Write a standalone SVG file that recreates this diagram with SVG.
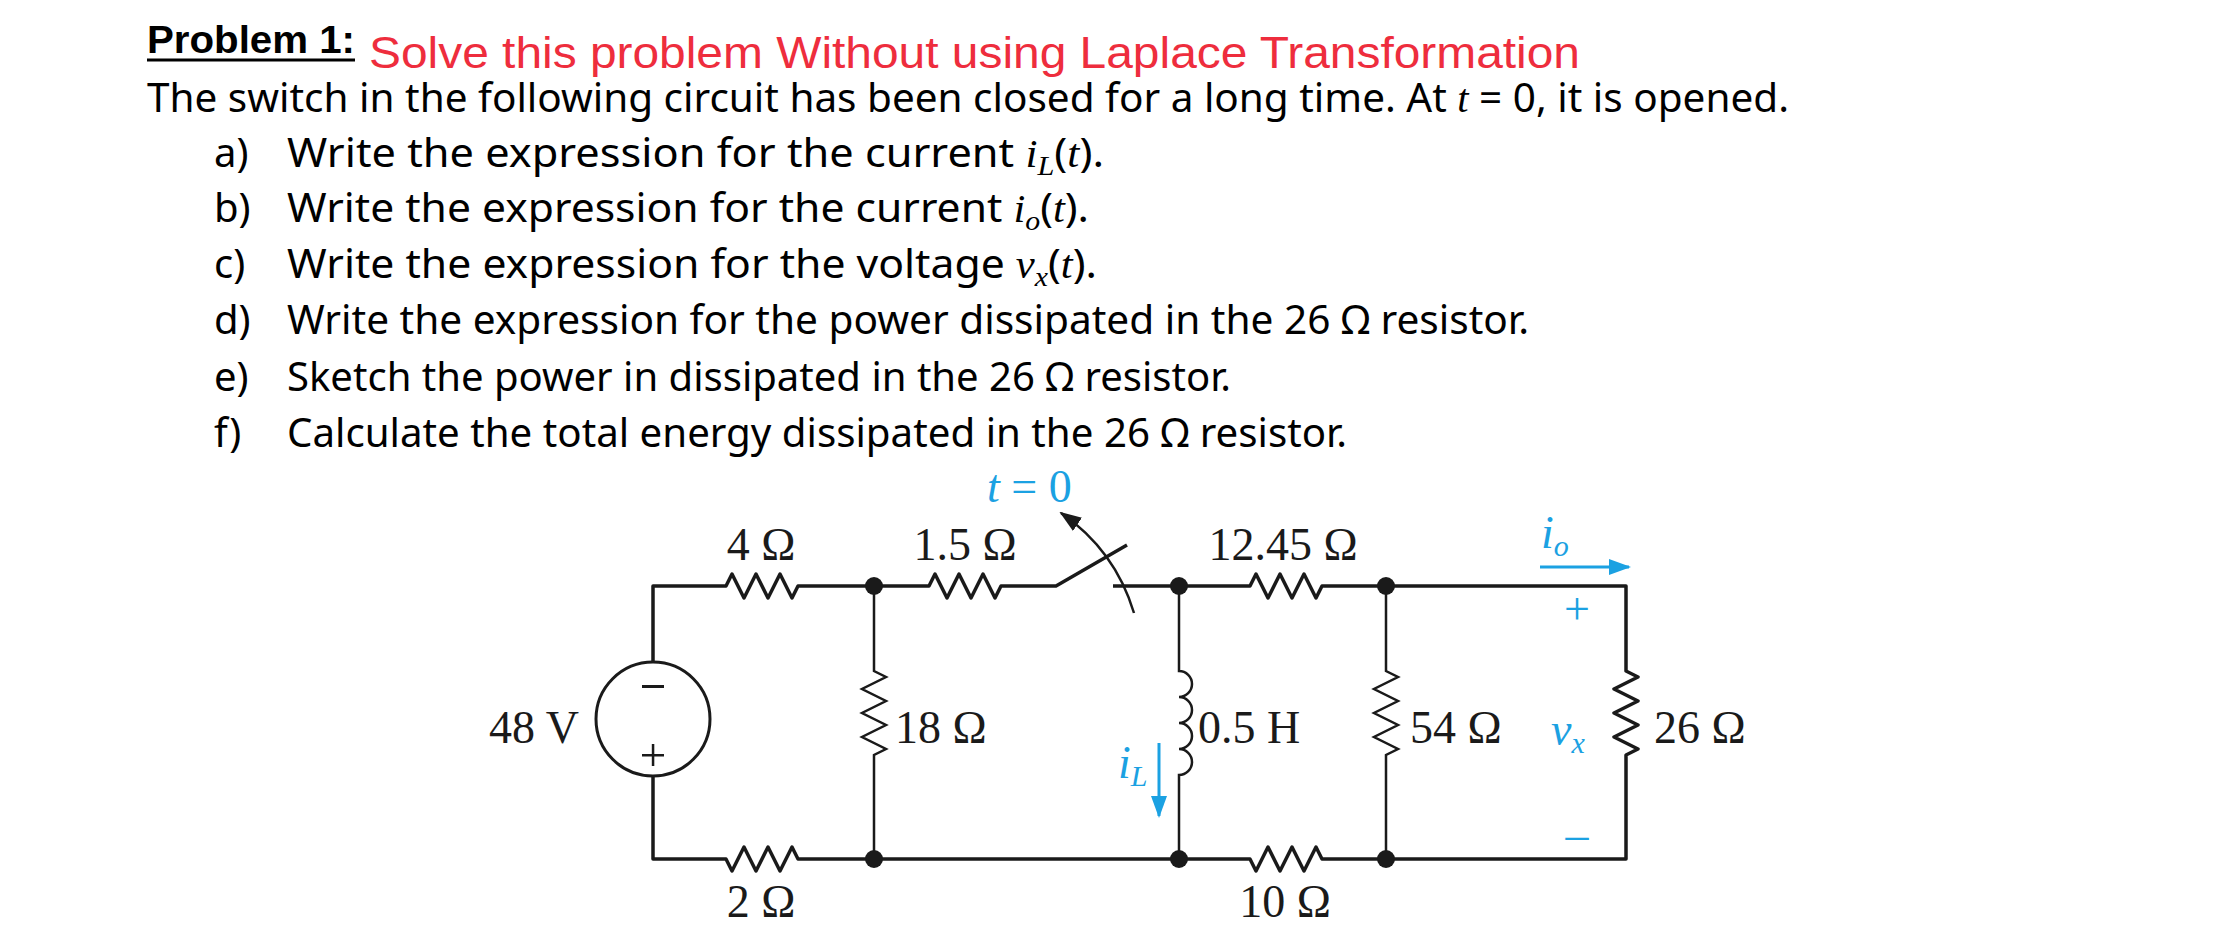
<svg xmlns="http://www.w3.org/2000/svg" width="2240" height="938" viewBox="0 0 2240 938">
<style>
.t{font-family:"Noto Sans","Liberation Sans",sans-serif;font-size:40px;fill:#000}
.m{font-family:"Liberation Serif",serif;font-style:italic}
.c{font-family:"Liberation Serif",serif;font-size:46px;fill:#1a1a1a}
.b{font-family:"Liberation Serif",serif;font-size:46px;fill:#1ba1e2}
.w{fill:none;stroke:#1a1a1a;stroke-width:3.5;stroke-linejoin:round}
.thin{fill:none;stroke:#1a1a1a;stroke-width:2.5}
.bl{fill:none;stroke:#1ba1e2;stroke-width:3}
.d{fill:#1a1a1a}
</style>
<defs>
<marker id="ab" markerWidth="22" markerHeight="16" refX="20" refY="8" orient="auto" markerUnits="userSpaceOnUse"><path d="M0,0 L22,8 L0,16z" fill="#1ba1e2"/></marker>
<marker id="ak" markerWidth="22" markerHeight="16" refX="20" refY="8" orient="auto" markerUnits="userSpaceOnUse"><path d="M0,0 L22,8 L0,16z" fill="#1a1a1a"/></marker>
</defs>
<rect width="2240" height="938" fill="#fff"/>
<g id="text">
<text x="147" y="53" font-family="Liberation Sans,sans-serif" font-weight="bold" font-size="38" textLength="208" lengthAdjust="spacingAndGlyphs">Problem 1:</text>
<line x1="147" y1="60" x2="355" y2="60" stroke="#000" stroke-width="3"/>
<text x="369" y="68" font-family="Liberation Sans,sans-serif" font-size="45" fill="#ee2d3d" textLength="1211" lengthAdjust="spacingAndGlyphs">Solve this problem Without using Laplace Transformation</text>
<text class="t" x="147" y="112" textLength="1642" lengthAdjust="spacingAndGlyphs">The switch in the following circuit has been closed for a long time. At <tspan class="m">t</tspan> = 0, it is opened.</text>
<text class="t" x="214" y="167">a)</text><text class="t" x="287" y="167" textLength="817" lengthAdjust="spacingAndGlyphs">Write the expression for the current <tspan class="m">i</tspan><tspan class="m" font-size="28" dy="8">L</tspan><tspan dy="-8">(</tspan><tspan class="m">t</tspan>).</text>
<text class="t" x="214" y="222">b)</text><text class="t" x="287" y="222" textLength="802" lengthAdjust="spacingAndGlyphs">Write the expression for the current <tspan class="m">i</tspan><tspan class="m" font-size="28" dy="8">o</tspan><tspan dy="-8">(</tspan><tspan class="m">t</tspan>).</text>
<text class="t" x="214" y="278">c)</text><text class="t" x="287" y="278" textLength="810" lengthAdjust="spacingAndGlyphs">Write the expression for the voltage <tspan class="m">v</tspan><tspan class="m" font-size="28" dy="8">x</tspan><tspan dy="-8">(</tspan><tspan class="m">t</tspan>).</text>
<text class="t" x="214" y="334">d)</text><text class="t" x="287" y="334" textLength="1242" lengthAdjust="spacingAndGlyphs">Write the expression for the power dissipated in the 26 Ω resistor.</text>
<text class="t" x="214" y="391">e)</text><text class="t" x="287" y="391" textLength="944" lengthAdjust="spacingAndGlyphs">Sketch the power in dissipated in the 26 Ω resistor.</text>
<text class="t" x="214" y="447">f)</text><text class="t" x="287" y="447" textLength="1060" lengthAdjust="spacingAndGlyphs">Calculate the total energy dissipated in the 26 Ω resistor.</text>
</g>
<g id="connectors">
<path class="w" d="M653,662 V586 H726 l6,-12 l12,24 l12,-24 l12,24 l12,-24 l12,24 l6,-12 H929 l6,-12 l12,24 l12,-24 l12,24 l12,-24 l12,24 l6,-12 H1056 L1127,545"/>
<path class="w" d="M1113,586 H1250 l6,-12 l12,24 l12,-24 l12,24 l12,-24 l12,24 l6,-12 H1626 V671 l12,6 l-24,12 l24,12 l-24,12 l24,12 l-24,12 l24,12 l-12,6 V859 H1386"/>
<path class="w" d="M653,776 V859 H726 l6,12 l12,-24 l12,24 l12,-24 l12,24 l12,-24 l6,12 H1250 l6,12 l12,-24 l12,24 l12,-24 l12,24 l12,-24 l6,12 H1386"/>
<path class="thin" d="M874,586 V671 l12,6 l-24,12 l24,12 l-24,12 l24,12 l-24,12 l24,12 l-12,6 V859"/>
<path class="thin" d="M1386,586 V671 l12,6 l-24,12 l24,12 l-24,12 l24,12 l-24,12 l24,12 l-12,6 V859"/>
<path class="thin" d="M1179,586 V671 a12,12 0 0 1 0,26 a12,12 0 0 1 0,26 a12,12 0 0 1 0,26 a12,12 0 0 1 0,26 V859"/>
<path d="M1134,613 Q1115,550 1061,513" fill="none" stroke="#1a1a1a" stroke-width="2.5" marker-end="url(#ak)"/>
<line class="bl" x1="1540" y1="567" x2="1629" y2="567" marker-end="url(#ab)"/>
<line class="bl" x1="1159" y1="743" x2="1159" y2="816" marker-end="url(#ab)"/>
</g>
<g id="nodes">
<circle class="d" cx="874" cy="586" r="9"/><circle class="d" cx="1179" cy="586" r="9"/><circle class="d" cx="1386" cy="586" r="9"/>
<circle class="d" cx="874" cy="859" r="9"/><circle class="d" cx="1179" cy="859" r="9"/><circle class="d" cx="1386" cy="859" r="9"/>
</g>
<g id="source">
<ellipse cx="653" cy="719" rx="57" ry="57" fill="none" stroke="#1a1a1a" stroke-width="3"/>
<rect x="642" y="685" width="22" height="3" fill="#1a1a1a"/>
<rect x="642" y="754" width="22" height="2.5" fill="#1a1a1a"/>
<rect x="651.8" y="744" width="2.5" height="22" fill="#1a1a1a"/>
<text class="c" x="579" y="743" text-anchor="end">48 V</text>
</g>
<g id="labels">
<text class="c" x="761" y="560" text-anchor="middle">4 Ω</text>
<text class="c" x="965" y="560" text-anchor="middle">1.5 Ω</text>
<text class="c" x="1283" y="560" text-anchor="middle">12.45 Ω</text>
<text class="c" x="895" y="743">18 Ω</text>
<text class="c" x="1198" y="743">0.5 H</text>
<text class="c" x="1410" y="743">54 Ω</text>
<text class="c" x="1654" y="743">26 Ω</text>
<text class="c" x="761" y="917" text-anchor="middle">2 Ω</text>
<text class="c" x="1285" y="917" text-anchor="middle">10 Ω</text>
<text class="b" x="987" y="502"><tspan font-style="italic">t</tspan> = 0</text>
<text class="b" x="1541" y="548" font-style="italic">i<tspan font-size="30" dy="8">o</tspan></text>
<text class="b" x="1118" y="778" font-style="italic">i<tspan font-size="30" dy="8">L</tspan></text>
<text class="b" x="1551" y="745" font-style="italic">v<tspan font-size="30" dy="8">x</tspan></text>
<text class="b" x="1577" y="624" text-anchor="middle" font-size="40">+</text>
<text class="b" x="1577" y="850" text-anchor="middle" font-size="40">–</text>
</g>
</svg>
